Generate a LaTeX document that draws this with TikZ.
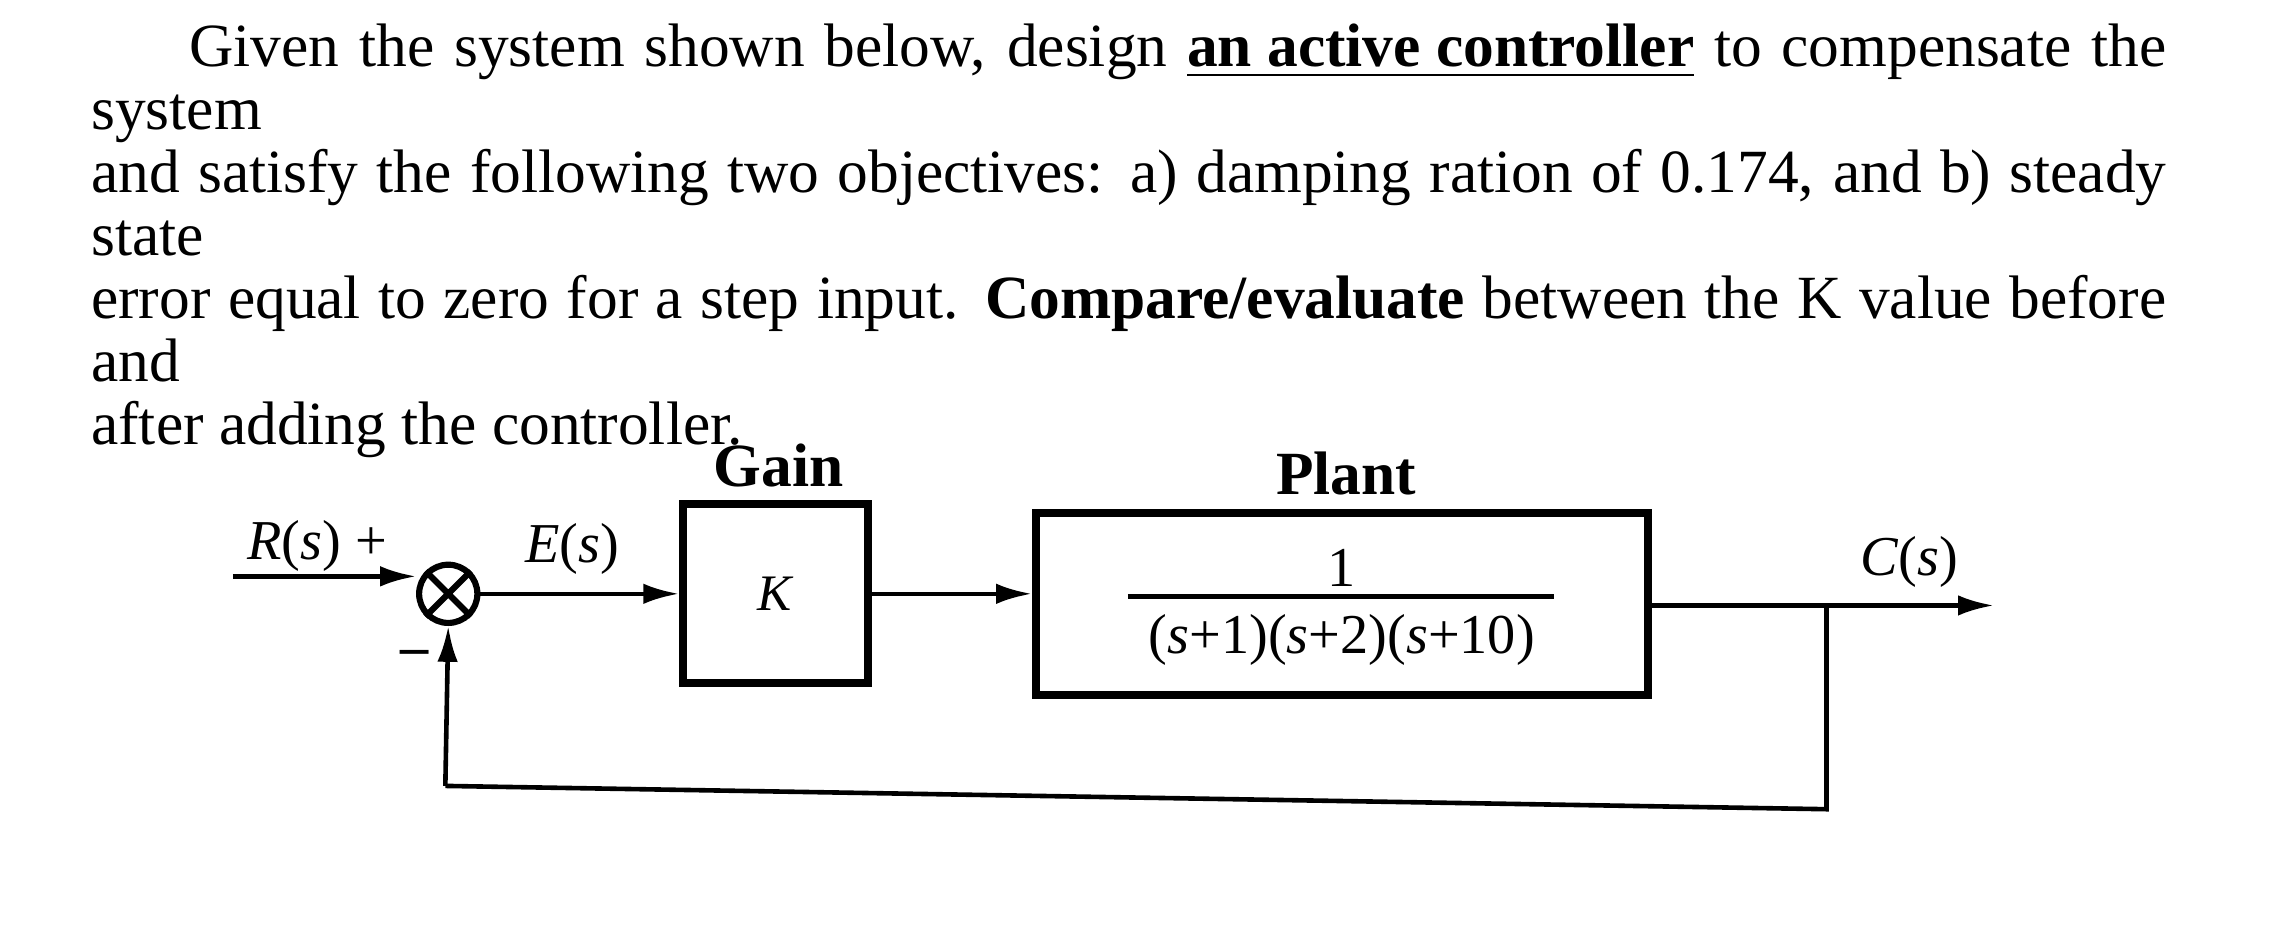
\documentclass[tikz,border=0pt]{standalone}
\usepackage{fontspec}
\setmainfont{Liberation Serif}
\usetikzlibrary{arrows.meta}
\begin{document}
\begin{tikzpicture}[x=0.01cm,y=-0.01cm,
  blk/.style={draw,line width=1.6pt,inner sep=0pt},
  wire/.style={line width=0.9pt},
  arr/.style={wire,-{Latex[length=7pt,width=4pt]}},
  lbl/.style={font=\fontsize{11}{13}\selectfont}]
\useasboundingbox (0,0) rectangle (1568,653);
\node[anchor=north west,text width=14.25cm,align=justify,inner sep=0pt,font=\fontsize{12}{12.3pt}\selectfont] (txt) at (62,16)
{\hyphenpenalty=10000\hspace*{1.6em}Given the system shown below, design \underline{\textbf{an active controller}} to compensate the system\linebreak and satisfy the following two objectives: a) damping ration of 0.174, and b) steady state\linebreak error equal to zero for a step input. \textbf{Compare/evaluate} between the K value before and\linebreak after adding the controller.};
\node[draw,circle,line width=1.2pt,inner sep=0pt,minimum size=0.4cm] (sum) at (308,408) {};
\draw[line width=1.2pt] (sum.north west)--(sum.south east) (sum.north east)--(sum.south west);
\node[blk,minimum width=1.27cm,minimum height=1.23cm] (gain) at (533,408) {\textit{K}};
\node[blk,minimum width=4.2cm,minimum height=1.25cm] (plant) at (922,415) {};
\node[lbl] (num) at (922,390) {1};
\node[lbl] (den) at (922,440) {(\textit{s}+1)(\textit{s}+2)(\textit{s}+10)};
\draw[wire] (775,410)--(1068,410);
\node[lbl,font=\bfseries\fontsize{12}{14}\selectfont] (gl) at (535,320) {Gain};
\node[lbl,font=\bfseries\fontsize{12}{14}\selectfont] (pl) at (925,325) {Plant};
\coordinate (in) at (160,396);
\draw[arr] (in)--(sum.west|-in);
\node[lbl] (R) at (218,375) {\textit{R}(\textit{s}) +};
\node[lbl] (E) at (393,377) {\textit{E}(\textit{s})};
\node[lbl] (m) at (285,452) {\textbf{--}};
\draw[arr] (sum.east|-gain.west) -- (gain.west);
\draw[arr] (gain.east) -- (plant.west|-gain.east);
\coordinate (out) at (1370,416);
\coordinate (br) at (1255,416);
\draw[arr] (plant.east|-out) -- (out);
\node[lbl] (C) at (1312,386) {\textit{C}(\textit{s})};
\coordinate (b1) at (1255,556);
\coordinate (b2) at (306,540);
\draw[wire] (br)--(b1)--(b2);
\draw[arr] (b2)--(sum.south);
\end{tikzpicture}
\end{document}
